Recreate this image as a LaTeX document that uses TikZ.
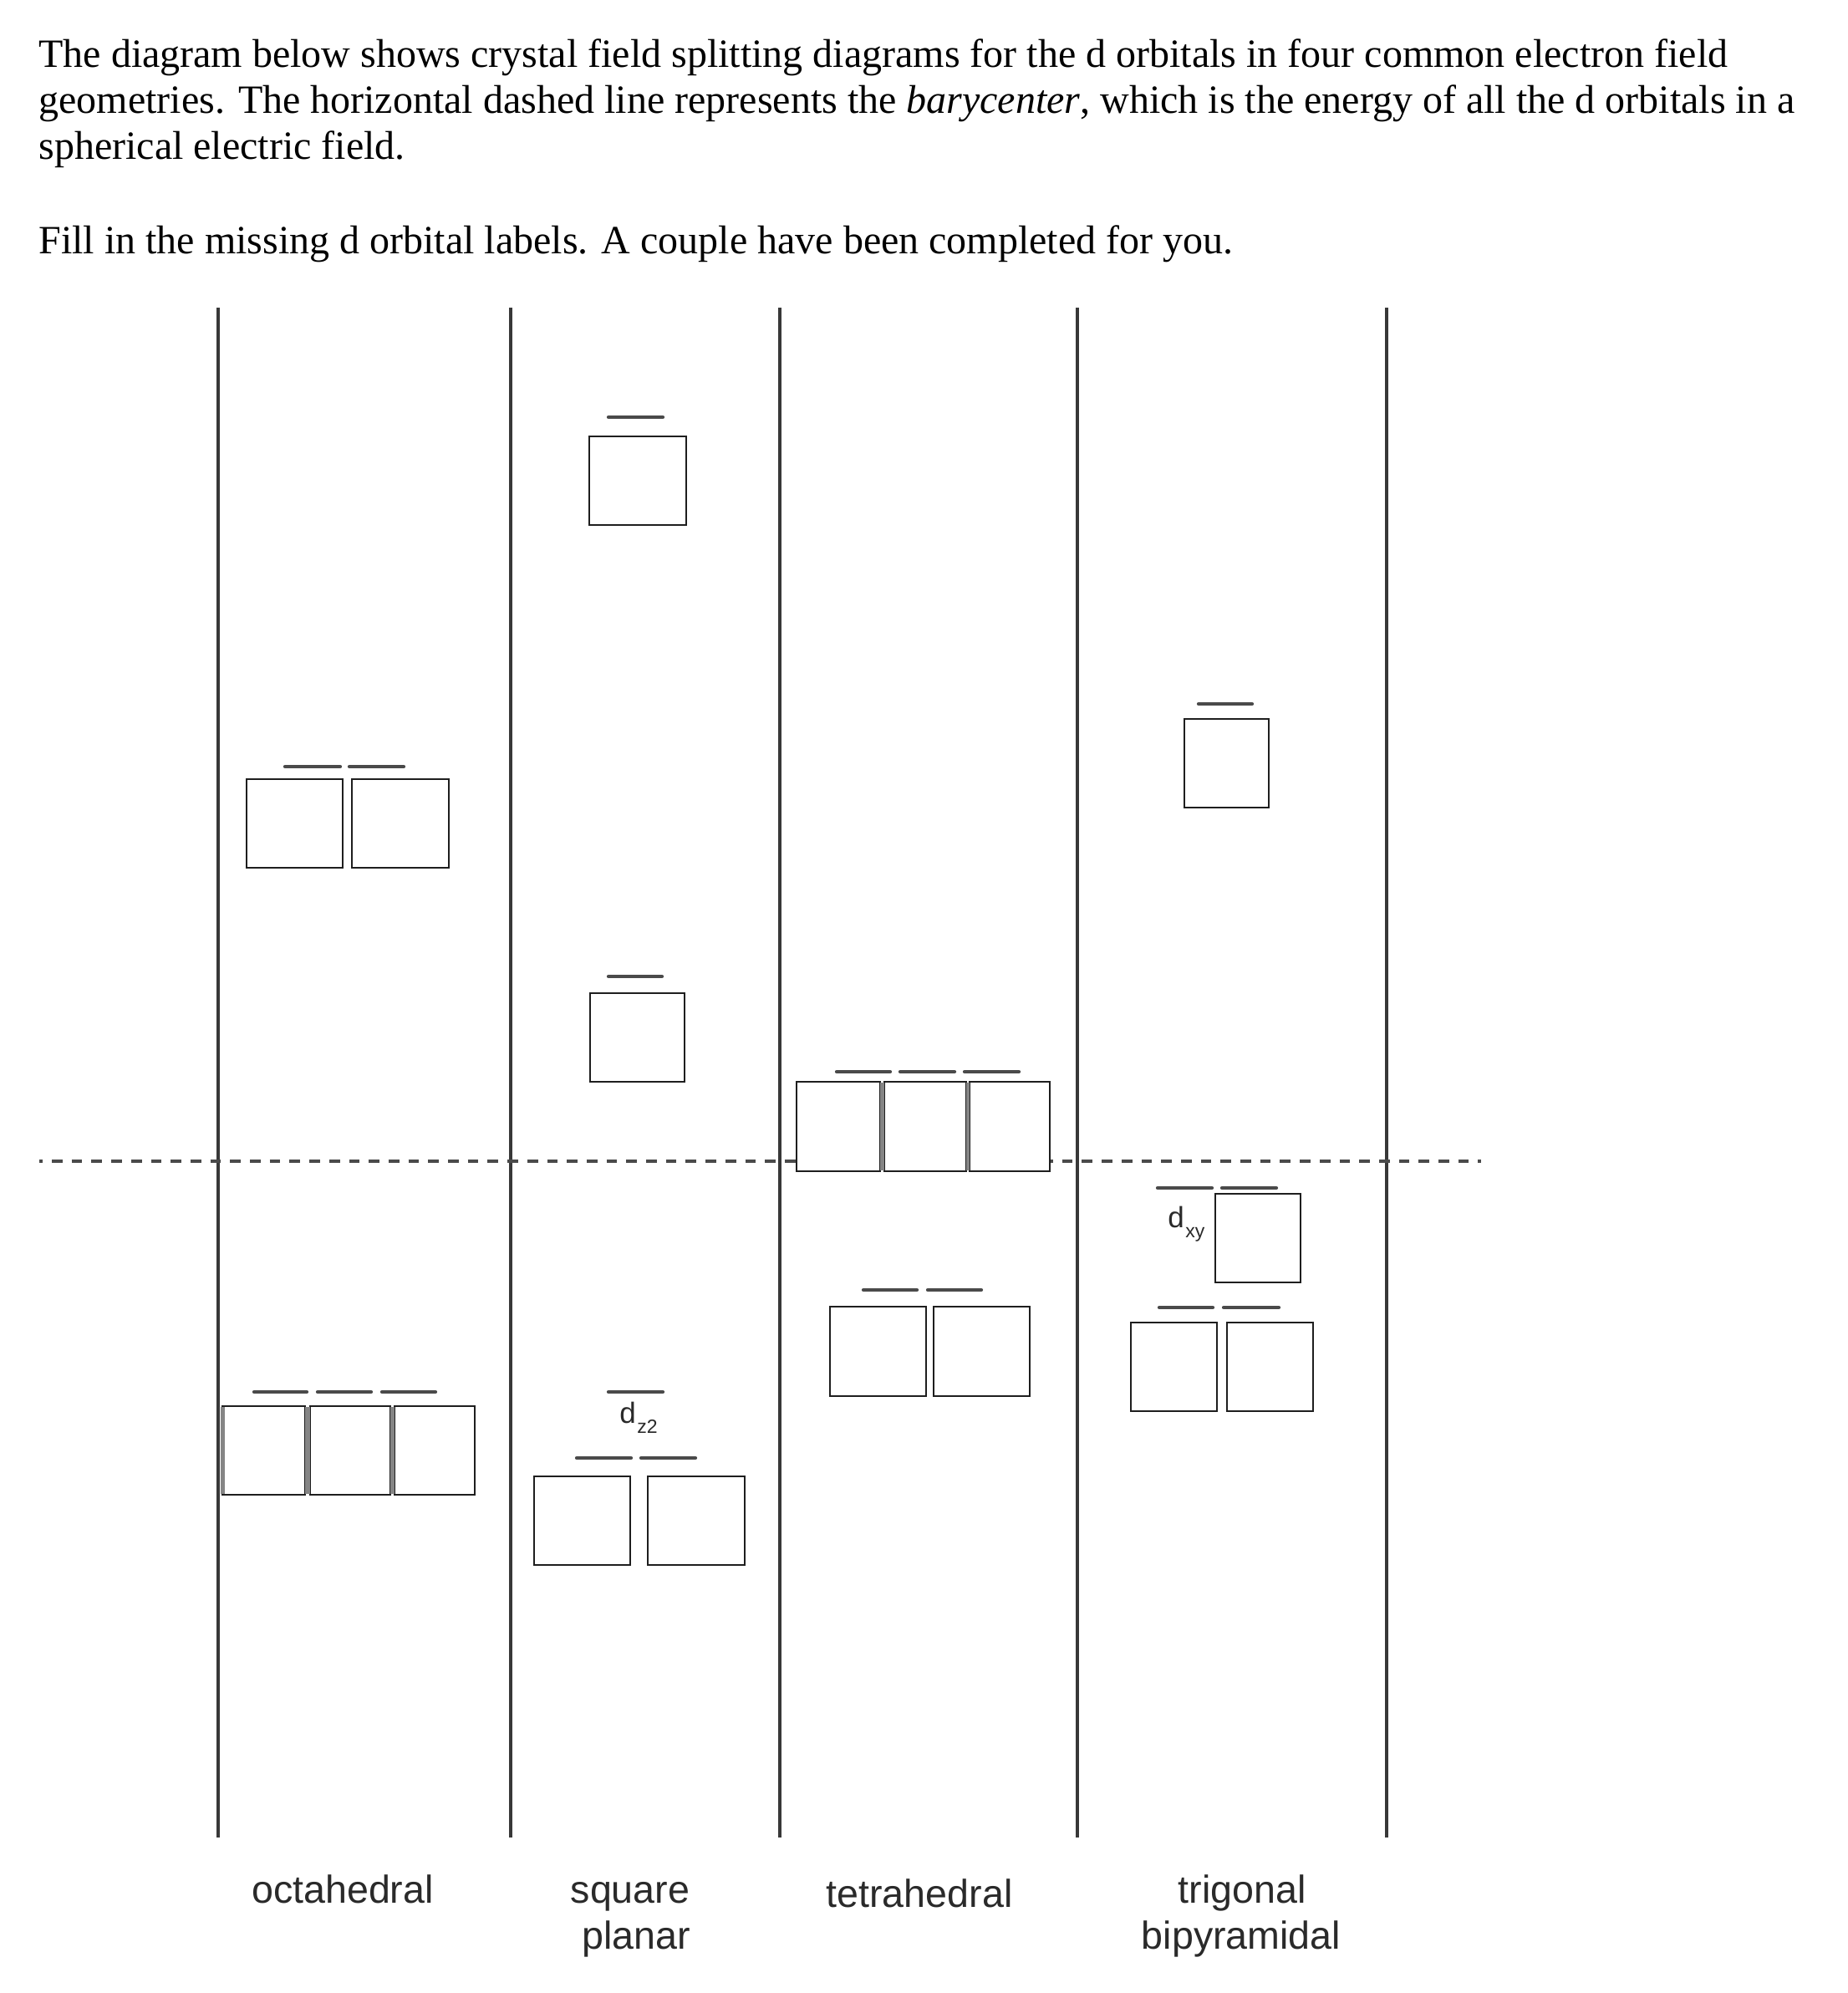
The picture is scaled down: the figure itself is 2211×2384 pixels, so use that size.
\documentclass[tikz,border=0pt]{standalone}
\usepackage{fontspec}
\setmainfont{Liberation Serif}
\newfontfamily\arialf{Liberation Sans}
\definecolor{vcol}{HTML}{383838}
\definecolor{lcol}{HTML}{4A4A4A}
\definecolor{bcol}{HTML}{1E1E1E}
\definecolor{jcol}{HTML}{858585}
\definecolor{tcol}{HTML}{2A2A2A}
\begin{document}
\begin{tikzpicture}[x=0.5pt,y=-0.5pt,
  vline/.style={draw=vcol,line width=2pt},
  lvl/.style={draw=lcol,line width=2.1pt,line cap=round},
  obox/.style={draw=bcol,line width=1pt,fill=white},
  joint/.style={fill=jcol,draw=none},
  barydash/.style={draw=lcol,line width=2pt,dash pattern=on 6.35pt off 5.5pt,dash phase=4.35pt},
  head/.style={anchor=base west,inner sep=0pt,font=\fontsize{24}{28}\selectfont},
  lab/.style={anchor=base,inner sep=0pt,text=tcol,font=\arialf\fontsize{23.3}{27}\selectfont},
  dlab/.style={anchor=base west,inner sep=0pt,text=tcol,font=\arialf\fontsize{17.5}{21}\selectfont},
  sublab/.style={anchor=base west,inner sep=0pt,text=tcol,font=\arialf\fontsize{11.5}{14}\selectfont}]
\useasboundingbox (0,0) rectangle (2211,2384);
\fill[white] (0,0) rectangle (2211,2384);
% header text
\node[head] (h1) at (46,80) {The diagram below shows crystal field splitting diagrams for the d orbitals in four common electron field};
\node[head] (h2) at (46,135) {geometries. The horizontal dashed line represents the \textit{barycenter}, which is the energy of all the d orbitals in a};
\node[head] (h3) at (46,190) {spherical electric field.};
\node[head] (h4) at (46,303) {Fill in the missing d orbital labels. A couple have been completed for you.};
% vertical separators
\foreach \xx in {261,611,933,1289,1659} \draw[vline] (\xx,368) -- (\xx,2198);
% barycenter
\draw[barydash] (47,1389) -- (1772,1389);
% ---------- octahedral ----------
\draw[obox] (295,932) rectangle (410,1038);
\draw[obox] (421,932) rectangle (537,1038);
\draw[lvl] (341,917) -- (407,917);
\draw[lvl] (418,917) -- (483,917);
\draw[obox] (266,1682) rectangle (365,1788);
\draw[obox] (371,1682) rectangle (467,1788);
\draw[obox] (472,1682) rectangle (568,1788);
\fill[joint] (264,1683) rectangle (268.5,1787);
\fill[joint] (365,1683) rectangle (371,1787);
\fill[joint] (467,1683) rectangle (472,1787);
\draw[lvl] (304,1665) -- (367,1665);
\draw[lvl] (380,1665) -- (444,1665);
\draw[lvl] (457,1665) -- (521,1665);
% ---------- square planar ----------
\draw[obox] (705,522) rectangle (821,628);
\draw[lvl] (728,499) -- (793,499);
\draw[obox] (706,1188) rectangle (819,1294);
\draw[lvl] (728,1168) -- (792,1168);
\draw[lvl] (728,1665) -- (793,1665);
\node[dlab] (dz) at (741,1702) {d};
\node[sublab] (dzs) at (762,1714) {z2};
\draw[obox] (639,1766) rectangle (754,1872);
\draw[obox] (775,1766) rectangle (891,1872);
\draw[lvl] (690,1744) -- (755,1744);
\draw[lvl] (767,1744) -- (832,1744);
% ---------- tetrahedral ----------
\draw[obox] (953,1294) rectangle (1053,1401);
\draw[obox] (1058,1294) rectangle (1156,1401);
\draw[obox] (1160,1294) rectangle (1256,1401);
\fill[joint] (1053,1295) rectangle (1058,1400);
\fill[joint] (1156,1295) rectangle (1160,1400);
\draw[lvl] (1001,1282) -- (1065,1282);
\draw[lvl] (1077,1282) -- (1142,1282);
\draw[lvl] (1154,1282) -- (1219,1282);
\draw[obox] (993,1563) rectangle (1108,1670);
\draw[obox] (1117,1563) rectangle (1232,1670);
\draw[lvl] (1033,1543) -- (1097,1543);
\draw[lvl] (1110,1543) -- (1174,1543);
% ---------- trigonal bipyramidal ----------
\draw[obox] (1417,860) rectangle (1518,966);
\draw[lvl] (1434,842) -- (1498,842);
\draw[obox] (1454,1428) rectangle (1556,1534);
\draw[lvl] (1385,1421) -- (1450,1421);
\draw[lvl] (1462,1421) -- (1527,1421);
\node[dlab] (dxy) at (1397,1468) {d};
\node[sublab] (dxys) at (1418,1480) {xy};
\draw[obox] (1353,1582) rectangle (1456,1688);
\draw[obox] (1468,1582) rectangle (1571,1688);
\draw[lvl] (1387,1564) -- (1451,1564);
\draw[lvl] (1464,1564) -- (1530,1564);
% ---------- labels ----------
\node[lab] (l1) at (410,2276) {octahedral};
\node[lab] (l2a) at (754,2276) {square};
\node[lab] (l2b) at (761,2331) {planar};
\node[lab] (l3) at (1100,2281) {tetrahedral};
\node[lab] (l4a) at (1486,2276) {trigonal};
\node[lab] (l4b) at (1485,2331) {bipyramidal};
\end{tikzpicture}
\end{document}
